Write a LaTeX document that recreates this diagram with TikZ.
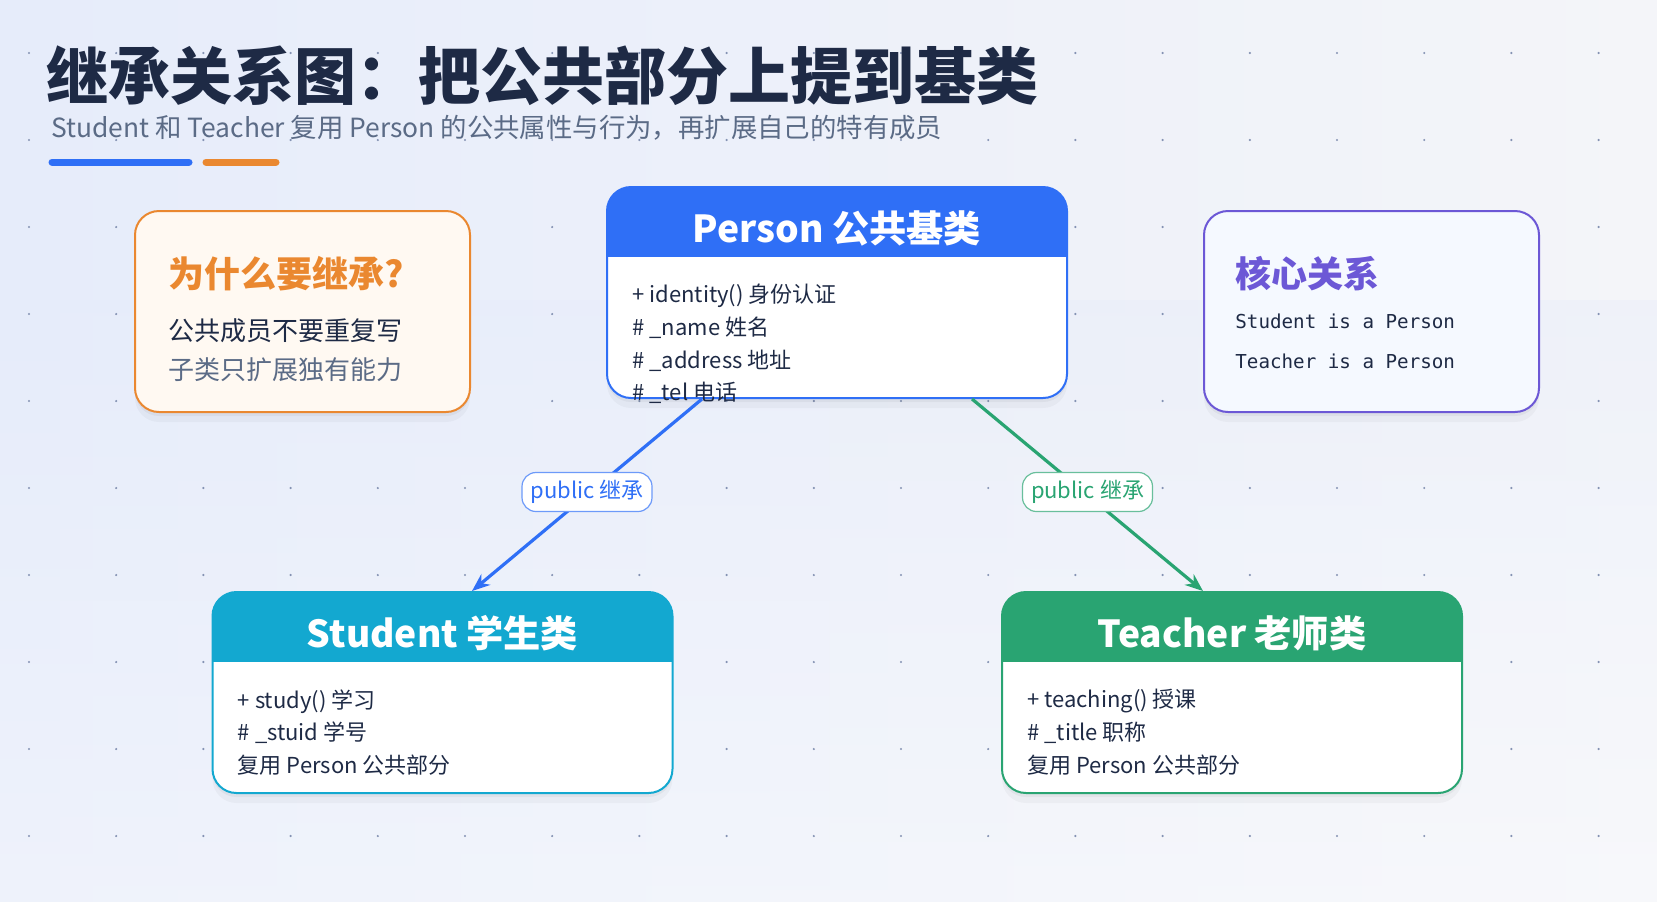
\documentclass[tikz,border=0pt]{standalone}
\usepackage{fontspec}
\setmainfont{Noto Sans CJK SC}
\newfontfamily\codefont{DejaVu Sans Mono}
\usetikzlibrary{arrows.meta,shadows}

\definecolor{ink}{HTML}{1E2A45}
\definecolor{subink}{HTML}{5B6B86}
\definecolor{dotc}{HTML}{8492B3}
\definecolor{baseblue}{HTML}{2F6FF6}
\definecolor{stucyan}{HTML}{13A8D0}
\definecolor{teagreen}{HTML}{29A472}
\definecolor{whyorange}{HTML}{EA8830}
\definecolor{whyfill}{HTML}{FFF9F2}
\definecolor{corepurple}{HTML}{6C58D6}
\definecolor{corefill}{HTML}{F5F9FF}
\definecolor{bgleft}{HTML}{E6ECFA}
\definecolor{bgright}{HTML}{F4F5F9}

\tikzset{
  softshadow/.style={
    drop shadow={shadow xshift=0pt, shadow yshift=-2pt, opacity=0.04, fill=black},
    drop shadow={shadow xshift=0pt, shadow yshift=-5pt, opacity=0.03, fill=black}},
  card/.style={draw=#1, line width=1pt, rounded corners=12pt,
    minimum width=167.5pt, minimum height=100.5pt, softshadow},
  classbox/.style={draw=#1, fill=white, line width=1pt, rounded corners=12pt,
    minimum width=230pt, minimum height=100.5pt, softshadow,
    path picture={\fill[#1, sharp corners] (path picture bounding box.north west)
      rectangle ([yshift=-35pt]path picture bounding box.north east);}},
  classtitle/.style={text=white, inner sep=0pt, font=\fontsize{18.6}{23}\selectfont\bfseries},
  members/.style={anchor=north west, align=left, inner sep=0pt, text=ink,
    font=\fontsize{11}{16.3}\selectfont},
  inherit/.style={draw=#1, line width=1.6pt, -{Stealth[length=9pt,width=7pt]}},
  tag/.style={fill=white, draw=#1!70, line width=0.6pt, rounded corners=7pt, text=#1,
    minimum width=65pt, minimum height=19.5pt, inner sep=2pt,
    font=\fontsize{11}{13}\selectfont},
}

\begin{document}
\begin{tikzpicture}[x=0.5pt, y=-0.5pt]
  \useasboundingbox (0,0) rectangle (1657,901);

  % background and dot grid
  \shade[left color=bgleft, right color=bgright] (0,0) rectangle (1657,901);
  \shade[top color=bgleft, bottom color=white, opacity=0.35] (0,300) rectangle (1657,901);
  \foreach \i in {0,...,18}
    \foreach \j in {0,...,9}
      \fill[dotc] (29+87.2*\i, 53+87*\j) circle (0.6pt);

  % heading
  \node[anchor=west, inner sep=0pt, text=ink, font=\fontsize{31}{36}\selectfont\bfseries]
    (title) at (46,76) {继承关系图：把公共部分上提到基类};
  \node[anchor=west, inner sep=0pt, text=subink, font=\fontsize{13.2}{16}\selectfont]
    (subtitle) at (51,128) {Student 和 Teacher 复用 Person 的公共属性与行为，再扩展自己的特有成员};
  \draw[baseblue, line width=3.5pt, line cap=round] (52,162) -- (189,162);
  \draw[whyorange, line width=3.5pt, line cap=round] (206,162) -- (276,162);

  % side cards
  \node[card=whyorange, fill=whyfill] (why) at (302.5,311.5) {};
  \node[anchor=west, inner sep=0pt, text=whyorange, font=\fontsize{18}{22}\selectfont\bfseries]
    (whytitle) at ([shift={(17pt,-32pt)}]why.north west) {为什么要继承?};
  \node[anchor=west, inner sep=0pt, text=ink, font=\fontsize{13}{16}\selectfont]
    (whyone) at ([shift={(17pt,-60.5pt)}]why.north west) {公共成员不要重复写};
  \node[anchor=west, inner sep=0pt, text=subink, font=\fontsize{13}{16}\selectfont]
    (whytwo) at ([shift={(17pt,-80pt)}]why.north west) {子类只扩展独有能力};

  \node[card=corepurple, fill=corefill] (core) at (1371.5,311.5) {};
  \node[anchor=west, inner sep=0pt, text=corepurple, font=\fontsize{18}{22}\selectfont\bfseries]
    (coretitle) at ([shift={(16pt,-32pt)}]core.north west) {核心关系};
  \node[anchor=west, inner sep=0pt, text=ink, font=\fontsize{9.6}{12}\codefont]
    (coreone) at ([shift={(16pt,-55.5pt)}]core.north west) {Student is a Person};
  \node[anchor=west, inner sep=0pt, text=ink, font=\fontsize{9.6}{12}\codefont]
    (coretwo) at ([shift={(16pt,-75.5pt)}]core.north west) {Teacher is a Person};

  % classes
  \node[classbox=baseblue, minimum height=105.5pt] (person) at (837,292.5) {};
  \node[classtitle] (persontitle) at ([yshift=-21pt]person.north) {Person 公共基类};
  \node[members] (personbody) at ([shift={(13pt,-49pt)}]person.north west)
    {+ identity() 身份认证\\\# \_name 姓名\\\# \_address 地址\\\# \_tel 电话};

  \node[classbox=stucyan] (student) at (442.5,692.5) {};
  \node[classtitle] (studenttitle) at ([yshift=-21pt]student.north) {Student 学生类};
  \node[members] (studentbody) at ([shift={(13pt,-49pt)}]student.north west)
    {+ study() 学习\\\# \_stuid 学号\\复用 Person 公共部分};

  \node[classbox=teagreen] (teacher) at (1232,692.5) {};
  \node[classtitle] (teachertitle) at ([yshift=-21pt]teacher.north) {Teacher 老师类};
  \node[members] (teacherbody) at ([shift={(13pt,-49pt)}]teacher.north west)
    {+ teaching() 授课\\\# \_title 职称\\复用 Person 公共部分};

  % inheritance
  \draw[inherit=baseblue] ([xshift=-67.5pt]person.south) -- ([xshift=14.75pt]student.north)
    node[tag=baseblue, midway, yshift=1.5pt] (tagstudent) {public 继承};
  \draw[inherit=teagreen] ([xshift=67.5pt]person.south) -- ([xshift=-14.5pt]teacher.north)
    node[tag=teagreen, midway, yshift=1.5pt] (tagteacher) {public 继承};
\end{tikzpicture}
\end{document}
